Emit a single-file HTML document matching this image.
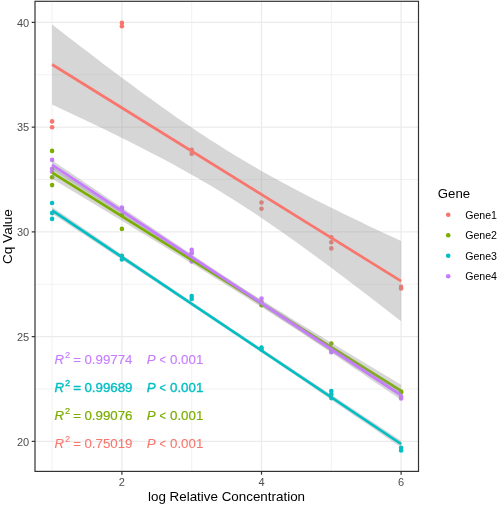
<!DOCTYPE html><html><head><meta charset="utf-8"><style>html,body{margin:0;padding:0;background:#fff;overflow:hidden}svg{display:block;will-change:transform}text{font-family:"Liberation Sans",sans-serif}</style></head><body>
<svg width="498" height="505" viewBox="0 0 498 505">
<rect x="0" y="0" width="498" height="505" fill="#fff"/>
<line x1="35.0" x2="418.5" y1="389.02" y2="389.02" stroke="#EBEBEB" stroke-width="0.7"/>
<line x1="35.0" x2="418.5" y1="284.27" y2="284.27" stroke="#EBEBEB" stroke-width="0.7"/>
<line x1="35.0" x2="418.5" y1="179.53" y2="179.53" stroke="#EBEBEB" stroke-width="0.7"/>
<line x1="35.0" x2="418.5" y1="74.78" y2="74.78" stroke="#EBEBEB" stroke-width="0.7"/>
<line x1="52.10" x2="52.10" y1="1.3" y2="471.4" stroke="#EBEBEB" stroke-width="0.7"/>
<line x1="191.70" x2="191.70" y1="1.3" y2="471.4" stroke="#EBEBEB" stroke-width="0.7"/>
<line x1="331.30" x2="331.30" y1="1.3" y2="471.4" stroke="#EBEBEB" stroke-width="0.7"/>
<line x1="35.0" x2="418.5" y1="441.40" y2="441.40" stroke="#EBEBEB" stroke-width="1.3"/>
<line x1="35.0" x2="418.5" y1="336.65" y2="336.65" stroke="#EBEBEB" stroke-width="1.3"/>
<line x1="35.0" x2="418.5" y1="231.90" y2="231.90" stroke="#EBEBEB" stroke-width="1.3"/>
<line x1="35.0" x2="418.5" y1="127.15" y2="127.15" stroke="#EBEBEB" stroke-width="1.3"/>
<line x1="35.0" x2="418.5" y1="22.40" y2="22.40" stroke="#EBEBEB" stroke-width="1.3"/>
<line x1="121.90" x2="121.90" y1="1.3" y2="471.4" stroke="#EBEBEB" stroke-width="1.3"/>
<line x1="261.50" x2="261.50" y1="1.3" y2="471.4" stroke="#EBEBEB" stroke-width="1.3"/>
<line x1="401.10" x2="401.10" y1="1.3" y2="471.4" stroke="#EBEBEB" stroke-width="1.3"/>
<circle cx="52.10" cy="121.40" r="2.3" fill="#F8766D"/>
<circle cx="52.10" cy="127.30" r="2.3" fill="#F8766D"/>
<circle cx="121.90" cy="22.90" r="2.3" fill="#F8766D"/>
<circle cx="121.90" cy="26.30" r="2.3" fill="#F8766D"/>
<circle cx="191.70" cy="149.80" r="2.3" fill="#F8766D"/>
<circle cx="191.70" cy="153.80" r="2.3" fill="#F8766D"/>
<circle cx="261.50" cy="202.50" r="2.3" fill="#F8766D"/>
<circle cx="261.50" cy="208.80" r="2.3" fill="#F8766D"/>
<circle cx="331.30" cy="237.30" r="2.3" fill="#F8766D"/>
<circle cx="331.30" cy="242.20" r="2.3" fill="#F8766D"/>
<circle cx="331.30" cy="248.40" r="2.3" fill="#F8766D"/>
<circle cx="401.10" cy="286.90" r="2.3" fill="#F8766D"/>
<circle cx="401.10" cy="288.50" r="2.3" fill="#F8766D"/>
<circle cx="52.10" cy="150.90" r="2.3" fill="#7CAE00"/>
<circle cx="52.10" cy="177.20" r="2.3" fill="#7CAE00"/>
<circle cx="52.10" cy="185.10" r="2.3" fill="#7CAE00"/>
<circle cx="121.90" cy="215.00" r="2.3" fill="#7CAE00"/>
<circle cx="121.90" cy="228.90" r="2.3" fill="#7CAE00"/>
<circle cx="191.70" cy="253.00" r="2.3" fill="#7CAE00"/>
<circle cx="261.50" cy="305.20" r="2.3" fill="#7CAE00"/>
<circle cx="331.30" cy="343.50" r="2.3" fill="#7CAE00"/>
<circle cx="401.10" cy="391.50" r="2.3" fill="#7CAE00"/>
<circle cx="401.10" cy="392.60" r="2.3" fill="#7CAE00"/>
<circle cx="52.10" cy="203.00" r="2.3" fill="#00BFC4"/>
<circle cx="52.10" cy="213.10" r="2.3" fill="#00BFC4"/>
<circle cx="52.10" cy="218.90" r="2.3" fill="#00BFC4"/>
<circle cx="121.90" cy="255.90" r="2.3" fill="#00BFC4"/>
<circle cx="121.90" cy="259.40" r="2.3" fill="#00BFC4"/>
<circle cx="191.70" cy="296.10" r="2.3" fill="#00BFC4"/>
<circle cx="191.70" cy="298.90" r="2.3" fill="#00BFC4"/>
<circle cx="261.50" cy="347.50" r="2.3" fill="#00BFC4"/>
<circle cx="261.50" cy="349.60" r="2.3" fill="#00BFC4"/>
<circle cx="331.30" cy="391.00" r="2.3" fill="#00BFC4"/>
<circle cx="331.30" cy="394.20" r="2.3" fill="#00BFC4"/>
<circle cx="331.30" cy="398.10" r="2.3" fill="#00BFC4"/>
<circle cx="401.10" cy="447.80" r="2.3" fill="#00BFC4"/>
<circle cx="401.10" cy="450.50" r="2.3" fill="#00BFC4"/>
<circle cx="52.10" cy="159.90" r="2.3" fill="#C77CFF"/>
<circle cx="52.10" cy="168.80" r="2.3" fill="#C77CFF"/>
<circle cx="52.10" cy="171.70" r="2.3" fill="#C77CFF"/>
<circle cx="121.90" cy="207.50" r="2.3" fill="#C77CFF"/>
<circle cx="121.90" cy="208.90" r="2.3" fill="#C77CFF"/>
<circle cx="191.70" cy="249.70" r="2.3" fill="#C77CFF"/>
<circle cx="191.70" cy="253.20" r="2.3" fill="#C77CFF"/>
<circle cx="191.70" cy="261.50" r="2.3" fill="#C77CFF"/>
<circle cx="261.50" cy="298.60" r="2.3" fill="#C77CFF"/>
<circle cx="261.50" cy="301.80" r="2.3" fill="#C77CFF"/>
<circle cx="331.30" cy="349.80" r="2.3" fill="#C77CFF"/>
<circle cx="331.30" cy="352.20" r="2.3" fill="#C77CFF"/>
<circle cx="401.10" cy="396.50" r="2.3" fill="#C77CFF"/>
<circle cx="401.10" cy="398.50" r="2.3" fill="#C77CFF"/>
<path d="M52.10,24.43 L57.92,28.95 L63.73,33.46 L69.55,37.95 L75.37,42.43 L81.18,46.90 L87.00,51.36 L92.82,55.80 L98.63,60.22 L104.45,64.63 L110.27,69.02 L116.08,73.39 L121.90,77.74 L127.72,82.07 L133.53,86.37 L139.35,90.64 L145.17,94.89 L150.98,99.11 L156.80,103.29 L162.62,107.44 L168.43,111.55 L174.25,115.63 L180.07,119.66 L185.88,123.65 L191.70,127.59 L197.52,131.49 L203.33,135.33 L209.15,139.13 L214.97,142.87 L220.78,146.56 L226.60,150.20 L232.42,153.78 L238.23,157.31 L244.05,160.79 L249.87,164.21 L255.68,167.59 L261.50,170.91 L267.32,174.19 L273.13,177.42 L278.95,180.61 L284.77,183.75 L290.58,186.86 L296.40,189.93 L302.22,192.97 L308.03,195.97 L313.85,198.94 L319.67,201.89 L325.48,204.81 L331.30,207.70 L337.12,210.57 L342.93,213.42 L348.75,216.25 L354.57,219.06 L360.38,221.86 L366.20,224.64 L372.02,227.40 L377.83,230.15 L383.65,232.89 L389.47,235.62 L395.28,238.33 L401.10,241.03 L401.10,321.17 L395.28,316.65 L389.47,312.14 L383.65,307.65 L377.83,303.17 L372.02,298.70 L366.20,294.24 L360.38,289.80 L354.57,285.38 L348.75,280.97 L342.93,276.58 L337.12,272.21 L331.30,267.86 L325.48,263.53 L319.67,259.23 L313.85,254.96 L308.03,250.71 L302.22,246.49 L296.40,242.31 L290.58,238.16 L284.77,234.05 L278.95,229.97 L273.13,225.94 L267.32,221.95 L261.50,218.01 L255.68,214.11 L249.87,210.27 L244.05,206.47 L238.23,202.73 L232.42,199.04 L226.60,195.40 L220.78,191.82 L214.97,188.29 L209.15,184.81 L203.33,181.39 L197.52,178.01 L191.70,174.69 L185.88,171.41 L180.07,168.18 L174.25,164.99 L168.43,161.85 L162.62,158.74 L156.80,155.67 L150.98,152.63 L145.17,149.63 L139.35,146.66 L133.53,143.71 L127.72,140.79 L121.90,137.90 L116.08,135.03 L110.27,132.18 L104.45,129.35 L98.63,126.54 L92.82,123.74 L87.00,120.96 L81.18,118.20 L75.37,115.45 L69.55,112.71 L63.73,109.98 L57.92,107.27 L52.10,104.57 Z" fill="#999999" fill-opacity="0.4"/>
<line x1="52.10" y1="64.5" x2="401.10" y2="281.1" stroke="#F8766D" stroke-width="2.7"/>
<path d="M52.10,166.67 L57.92,170.44 L63.73,174.21 L69.55,177.98 L75.37,181.75 L81.18,185.51 L87.00,189.27 L92.82,193.03 L98.63,196.79 L104.45,200.55 L110.27,204.30 L116.08,208.05 L121.90,211.79 L127.72,215.54 L133.53,219.28 L139.35,223.01 L145.17,226.74 L150.98,230.47 L156.80,234.19 L162.62,237.91 L168.43,241.62 L174.25,245.32 L180.07,249.02 L185.88,252.71 L191.70,256.40 L197.52,260.08 L203.33,263.75 L209.15,267.41 L214.97,271.06 L220.78,274.71 L226.60,278.35 L232.42,281.98 L238.23,285.60 L244.05,289.22 L249.87,292.83 L255.68,296.43 L261.50,300.02 L267.32,303.60 L273.13,307.18 L278.95,310.75 L284.77,314.32 L290.58,317.88 L296.40,321.43 L302.22,324.98 L308.03,328.52 L313.85,332.06 L319.67,335.60 L325.48,339.13 L331.30,342.65 L337.12,346.18 L342.93,349.70 L348.75,353.22 L354.57,356.73 L360.38,360.24 L366.20,363.75 L372.02,367.26 L377.83,370.77 L383.65,374.27 L389.47,377.77 L395.28,381.27 L401.10,384.77 L401.10,396.83 L395.28,393.06 L389.47,389.29 L383.65,385.52 L377.83,381.75 L372.02,377.99 L366.20,374.23 L360.38,370.47 L354.57,366.71 L348.75,362.95 L342.93,359.20 L337.12,355.45 L331.30,351.71 L325.48,347.96 L319.67,344.22 L313.85,340.49 L308.03,336.76 L302.22,333.03 L296.40,329.31 L290.58,325.59 L284.77,321.88 L278.95,318.18 L273.13,314.48 L267.32,310.79 L261.50,307.10 L255.68,303.42 L249.87,299.75 L244.05,296.09 L238.23,292.44 L232.42,288.79 L226.60,285.15 L220.78,281.52 L214.97,277.90 L209.15,274.28 L203.33,270.67 L197.52,267.07 L191.70,263.48 L185.88,259.90 L180.07,256.32 L174.25,252.75 L168.43,249.18 L162.62,245.62 L156.80,242.07 L150.98,238.52 L145.17,234.98 L139.35,231.44 L133.53,227.90 L127.72,224.37 L121.90,220.85 L116.08,217.32 L110.27,213.80 L104.45,210.28 L98.63,206.77 L92.82,203.26 L87.00,199.75 L81.18,196.24 L75.37,192.73 L69.55,189.23 L63.73,185.73 L57.92,182.23 L52.10,178.73 Z" fill="#999999" fill-opacity="0.4"/>
<line x1="52.10" y1="172.7" x2="401.10" y2="390.8" stroke="#7CAE00" stroke-width="2.7"/>
<path d="M52.10,206.93 L57.92,210.90 L63.73,214.87 L69.55,218.84 L75.37,222.81 L81.18,226.78 L87.00,230.74 L92.82,234.71 L98.63,238.67 L104.45,242.63 L110.27,246.60 L116.08,250.55 L121.90,254.51 L127.72,258.47 L133.53,262.42 L139.35,266.37 L145.17,270.32 L150.98,274.26 L156.80,278.21 L162.62,282.15 L168.43,286.09 L174.25,290.02 L180.07,293.95 L185.88,297.88 L191.70,301.80 L197.52,305.72 L203.33,309.63 L209.15,313.54 L214.97,317.45 L220.78,321.35 L226.60,325.25 L232.42,329.14 L238.23,333.03 L244.05,336.91 L249.87,340.79 L255.68,344.67 L261.50,348.54 L267.32,352.41 L273.13,356.27 L278.95,360.13 L284.77,363.99 L290.58,367.84 L296.40,371.69 L302.22,375.53 L308.03,379.38 L313.85,383.22 L319.67,387.06 L325.48,390.90 L331.30,394.73 L337.12,398.56 L342.93,402.40 L348.75,406.22 L354.57,410.05 L360.38,413.88 L366.20,417.70 L372.02,421.53 L377.83,425.35 L383.65,429.17 L389.47,432.99 L395.28,436.81 L401.10,440.63 L401.10,447.37 L395.28,443.40 L389.47,439.43 L383.65,435.46 L377.83,431.49 L372.02,427.52 L366.20,423.56 L360.38,419.59 L354.57,415.63 L348.75,411.67 L342.93,407.70 L337.12,403.75 L331.30,399.79 L325.48,395.83 L319.67,391.88 L313.85,387.93 L308.03,383.98 L302.22,380.04 L296.40,376.09 L290.58,372.15 L284.77,368.21 L278.95,364.28 L273.13,360.35 L267.32,356.42 L261.50,352.50 L255.68,348.58 L249.87,344.67 L244.05,340.76 L238.23,336.85 L232.42,332.95 L226.60,329.05 L220.78,325.16 L214.97,321.27 L209.15,317.39 L203.33,313.51 L197.52,309.63 L191.70,305.76 L185.88,301.89 L180.07,298.03 L174.25,294.17 L168.43,290.31 L162.62,286.46 L156.80,282.61 L150.98,278.77 L145.17,274.92 L139.35,271.08 L133.53,267.24 L127.72,263.40 L121.90,259.57 L116.08,255.74 L110.27,251.90 L104.45,248.08 L98.63,244.25 L92.82,240.42 L87.00,236.60 L81.18,232.77 L75.37,228.95 L69.55,225.13 L63.73,221.31 L57.92,217.49 L52.10,213.67 Z" fill="#999999" fill-opacity="0.4"/>
<line x1="52.10" y1="210.3" x2="401.10" y2="444.0" stroke="#00BFC4" stroke-width="2.7"/>
<path d="M52.10,160.29 L57.92,164.23 L63.73,168.18 L69.55,172.12 L75.37,176.06 L81.18,180.00 L87.00,183.94 L92.82,187.87 L98.63,191.81 L104.45,195.74 L110.27,199.67 L116.08,203.59 L121.90,207.52 L127.72,211.44 L133.53,215.36 L139.35,219.28 L145.17,223.19 L150.98,227.10 L156.80,231.01 L162.62,234.91 L168.43,238.81 L174.25,242.70 L180.07,246.59 L185.88,250.47 L191.70,254.35 L197.52,258.22 L203.33,262.09 L209.15,265.95 L214.97,269.81 L220.78,273.66 L226.60,277.50 L232.42,281.34 L238.23,285.17 L244.05,288.99 L249.87,292.81 L255.68,296.62 L261.50,300.43 L267.32,304.23 L273.13,308.03 L278.95,311.82 L284.77,315.61 L290.58,319.39 L296.40,323.17 L302.22,326.94 L308.03,330.71 L313.85,334.48 L319.67,338.24 L325.48,342.00 L331.30,345.76 L337.12,349.51 L342.93,353.27 L348.75,357.02 L354.57,360.77 L360.38,364.51 L366.20,368.26 L372.02,372.00 L377.83,375.74 L383.65,379.48 L389.47,383.22 L395.28,386.95 L401.10,390.69 L401.10,399.91 L395.28,395.97 L389.47,392.02 L383.65,388.08 L377.83,384.14 L372.02,380.20 L366.20,376.26 L360.38,372.33 L354.57,368.39 L348.75,364.46 L342.93,360.53 L337.12,356.61 L331.30,352.68 L325.48,348.76 L319.67,344.84 L313.85,340.92 L308.03,337.01 L302.22,333.10 L296.40,329.19 L290.58,325.29 L284.77,321.39 L278.95,317.50 L273.13,313.61 L267.32,309.73 L261.50,305.85 L255.68,301.98 L249.87,298.11 L244.05,294.25 L238.23,290.39 L232.42,286.54 L226.60,282.70 L220.78,278.86 L214.97,275.03 L209.15,271.21 L203.33,267.39 L197.52,263.58 L191.70,259.77 L185.88,255.97 L180.07,252.17 L174.25,248.38 L168.43,244.59 L162.62,240.81 L156.80,237.03 L150.98,233.26 L145.17,229.49 L139.35,225.72 L133.53,221.96 L127.72,218.20 L121.90,214.44 L116.08,210.69 L110.27,206.93 L104.45,203.18 L98.63,199.43 L92.82,195.69 L87.00,191.94 L81.18,188.20 L75.37,184.46 L69.55,180.72 L63.73,176.98 L57.92,173.25 L52.10,169.51 Z" fill="#999999" fill-opacity="0.4"/>
<line x1="52.10" y1="164.9" x2="401.10" y2="395.3" stroke="#C77CFF" stroke-width="2.7"/>
<g fill="#C77CFF" stroke="#C77CFF" stroke-width="0.12" font-size="13.3">
<text x="54.6" y="363.79999999999995" font-style="italic">R</text>
<text x="65.0" y="357.5" font-size="9.3">2</text>
<text x="73.3" y="363.79999999999995">=</text>
<text x="84.4" y="363.79999999999995">0.99774</text>
<text x="146.7" y="363.79999999999995" font-style="italic">P</text>
<text transform="translate(159.6,363.79999999999995) scale(0.82,0.9)">&lt;</text>
<text x="170.0" y="363.79999999999995">0.001</text>
</g>
<g fill="#00BFC4" stroke="#00BFC4" stroke-width="0.36" font-size="13.3">
<text x="54.6" y="392.0" font-style="italic">R</text>
<text x="65.0" y="385.7" font-size="9.3">2</text>
<text x="73.3" y="392.0">=</text>
<text x="84.4" y="392.0">0.99689</text>
<text x="146.7" y="392.0" font-style="italic">P</text>
<text transform="translate(159.6,392.0) scale(0.82,0.9)">&lt;</text>
<text x="170.0" y="392.0">0.001</text>
</g>
<g fill="#7CAE00" stroke="#7CAE00" stroke-width="0.2" font-size="13.3">
<text x="54.6" y="420.2" font-style="italic">R</text>
<text x="65.0" y="413.9" font-size="9.3">2</text>
<text x="73.3" y="420.2">=</text>
<text x="84.4" y="420.2">0.99076</text>
<text x="146.7" y="420.2" font-style="italic">P</text>
<text transform="translate(159.6,420.2) scale(0.82,0.9)">&lt;</text>
<text x="170.0" y="420.2">0.001</text>
</g>
<g fill="#F8766D" stroke="#F8766D" stroke-width="0.08" font-size="13.3">
<text x="54.6" y="448.4" font-style="italic">R</text>
<text x="65.0" y="442.1" font-size="9.3">2</text>
<text x="73.3" y="448.4">=</text>
<text x="84.4" y="448.4">0.75019</text>
<text x="146.7" y="448.4" font-style="italic">P</text>
<text transform="translate(159.6,448.4) scale(0.82,0.9)">&lt;</text>
<text x="170.0" y="448.4">0.001</text>
</g>
<rect x="35.0" y="1.3" width="383.5" height="470.09999999999997" fill="none" stroke="#333333" stroke-width="1.2"/>
<line x1="31.7" x2="35.0" y1="441.40" y2="441.40" stroke="#333333" stroke-width="1.2"/>
<text x="29.2" y="445.70" font-size="11" fill="#4D4D4D" text-anchor="end">20</text>
<line x1="31.7" x2="35.0" y1="336.65" y2="336.65" stroke="#333333" stroke-width="1.2"/>
<text x="29.2" y="340.95" font-size="11" fill="#4D4D4D" text-anchor="end">25</text>
<line x1="31.7" x2="35.0" y1="231.90" y2="231.90" stroke="#333333" stroke-width="1.2"/>
<text x="29.2" y="236.20" font-size="11" fill="#4D4D4D" text-anchor="end">30</text>
<line x1="31.7" x2="35.0" y1="127.15" y2="127.15" stroke="#333333" stroke-width="1.2"/>
<text x="29.2" y="131.45" font-size="11" fill="#4D4D4D" text-anchor="end">35</text>
<line x1="31.7" x2="35.0" y1="22.40" y2="22.40" stroke="#333333" stroke-width="1.2"/>
<text x="29.2" y="26.70" font-size="11" fill="#4D4D4D" text-anchor="end">40</text>
<line x1="121.90" x2="121.90" y1="471.4" y2="474.7" stroke="#333333" stroke-width="1.2"/>
<text x="121.90" y="486.2" font-size="11" fill="#4D4D4D" text-anchor="middle">2</text>
<line x1="261.50" x2="261.50" y1="471.4" y2="474.7" stroke="#333333" stroke-width="1.2"/>
<text x="261.50" y="486.2" font-size="11" fill="#4D4D4D" text-anchor="middle">4</text>
<line x1="401.10" x2="401.10" y1="471.4" y2="474.7" stroke="#333333" stroke-width="1.2"/>
<text x="401.10" y="486.2" font-size="11" fill="#4D4D4D" text-anchor="middle">6</text>
<text x="226.5" y="500.9" font-size="13.4" fill="#000" text-anchor="middle">log Relative Concentration</text>
<text transform="translate(11.8,236.6) rotate(-90)" x="0" y="0" font-size="13.6" fill="#000" text-anchor="middle">Cq Value</text>
<text x="437.8" y="197.5" font-size="13.2" fill="#000">Gene</text>
<circle cx="448.2" cy="214.80" r="2.3" fill="#F8766D"/>
<text x="465.2" y="218.70" font-size="10.6" fill="#000">Gene1</text>
<circle cx="448.2" cy="235.30" r="2.3" fill="#7CAE00"/>
<text x="465.2" y="239.20" font-size="10.6" fill="#000">Gene2</text>
<circle cx="448.2" cy="255.80" r="2.3" fill="#00BFC4"/>
<text x="465.2" y="259.70" font-size="10.6" fill="#000">Gene3</text>
<circle cx="448.2" cy="276.30" r="2.3" fill="#C77CFF"/>
<text x="465.2" y="280.20" font-size="10.6" fill="#000">Gene4</text>
</svg></body></html>
